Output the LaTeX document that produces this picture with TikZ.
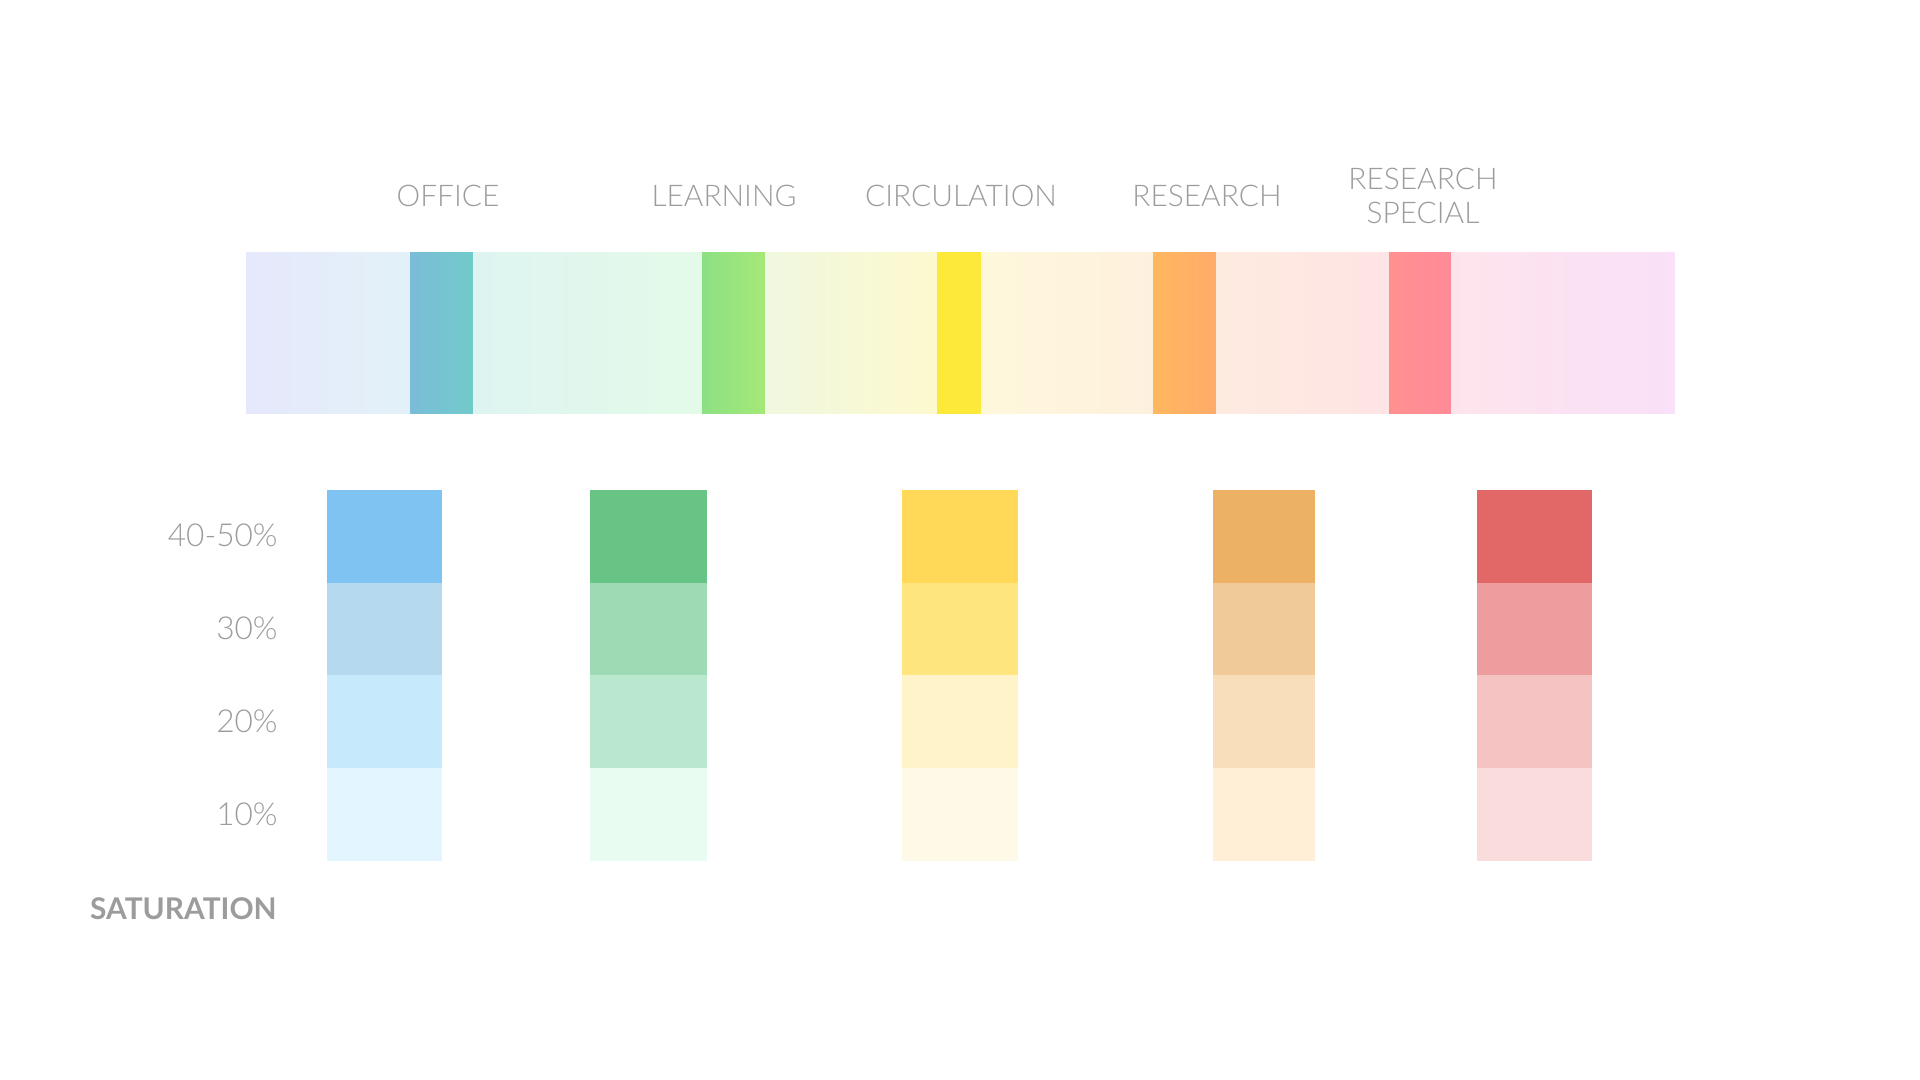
\documentclass[tikz,border=0pt]{standalone}
\usepackage{fontspec}
\setmainfont{Lato}
\newfontfamily\lightfont{Lato Light}
\usepackage{tikz}

% text
\definecolor{labelgray}{HTML}{9C9C9C}
% spectrum bar
\definecolor{barA}{HTML}{E6E8FC}
\definecolor{barB}{HTML}{E2F1F8}
\definecolor{barC}{HTML}{7BBCD8}
\definecolor{barD}{HTML}{70CBCA}
\definecolor{barE}{HTML}{DEF4F1}
\definecolor{barF}{HTML}{E4FAE8}
\definecolor{barG}{HTML}{8CE084}
\definecolor{barH}{HTML}{A5E977}
\definecolor{barI}{HTML}{F0F8DF}
\definecolor{barJ}{HTML}{FDF9CE}
\definecolor{barK}{HTML}{FDE93A}
\definecolor{barL}{HTML}{FEF8DB}
\definecolor{barM}{HTML}{FEF0DE}
\definecolor{barN}{HTML}{FFB85E}
\definecolor{barO}{HTML}{FFAA6A}
\definecolor{barP}{HTML}{FEEBDF}
\definecolor{barQ}{HTML}{FEE4E4}
\definecolor{barR}{HTML}{FF9090}
\definecolor{barS}{HTML}{FF8A99}
\definecolor{barT}{HTML}{FDE4EC}
\definecolor{barU}{HTML}{FAE0F8}
% saturation swatches
\definecolor{sb1}{HTML}{7FC3F2}
\definecolor{sb2}{HTML}{B5D9EE}
\definecolor{sb3}{HTML}{C7E9FC}
\definecolor{sb4}{HTML}{E3F5FE}
\definecolor{sg1}{HTML}{68C485}
\definecolor{sg2}{HTML}{9EDBB5}
\definecolor{sg3}{HTML}{BAE8CF}
\definecolor{sg4}{HTML}{E8FCF2}
\definecolor{sy1}{HTML}{FFD957}
\definecolor{sy2}{HTML}{FFE57E}
\definecolor{sy3}{HTML}{FFF3CA}
\definecolor{sy4}{HTML}{FFF9E8}
\definecolor{so1}{HTML}{EDB166}
\definecolor{so2}{HTML}{F0CA99}
\definecolor{so3}{HTML}{F9DEBC}
\definecolor{so4}{HTML}{FEEFD6}
\definecolor{sr1}{HTML}{E26868}
\definecolor{sr2}{HTML}{EE9D9F}
\definecolor{sr3}{HTML}{F6C3C3}
\definecolor{sr4}{HTML}{FADCDD}

\begin{document}
\begin{tikzpicture}[x=0.2mm,y=-0.2mm,
	catlabel/.style={text=labelgray,font=\lightfont\fontsize{17}{19.3}\selectfont,align=center,inner sep=0pt},
	satlabel/.style={text=labelgray,font=\lightfont\fontsize{18}{20}\selectfont,anchor=east,inner sep=0pt}]
	\fill[white] (0,0) rectangle (1920,1080);
	% spectrum bar
	\foreach \xa/\xb/\ca/\cb in {246/410/barA/barB, 410/473/barC/barD, 473/702/barE/barF,
		702/765/barG/barH, 765/937/barI/barJ, 937/981/barK/barK, 981/1153/barL/barM,
		1153/1216/barN/barO, 1216/1389/barP/barQ, 1389/1451/barR/barS, 1451/1674/barT/barU}
		\shade[left color=\ca,right color=\cb] (\xa,253) rectangle (\xb+0.5,414);
	% category labels
	\node[catlabel] (office) at (448,196) {OFFICE};
	\node[catlabel] (learning) at (724,196) {LEARNING};
	\node[catlabel] (circulation) at (961,196) {CIRCULATION};
	\node[catlabel] (research) at (1207,196) {RESEARCH};
	\node[catlabel] (special) at (1423,196) {RESEARCH\\SPECIAL};
	% saturation swatches
	\foreach \c/\x/\w in {sb/327/115, sg/590/117, sy/902/116, so/1213/102, sr/1477/115}
		\foreach \r in {1,...,4}
			\fill[\c\r] (\x,{490+(\r-1)*92.75}) rectangle ++(\w,92.75);
	% saturation labels
	\node[satlabel] (sat1) at (278,535) {40-50\%};
	\node[satlabel] (sat2) at (278,628) {30\%};
	\node[satlabel] (sat3) at (278,721) {20\%};
	\node[satlabel] (sat4) at (278,814) {10\%};
	\node[satlabel,font=\fontsize{17}{20}\selectfont\bfseries] (saturation) at (277,909) {SATURATION};
\end{tikzpicture}
\end{document}
